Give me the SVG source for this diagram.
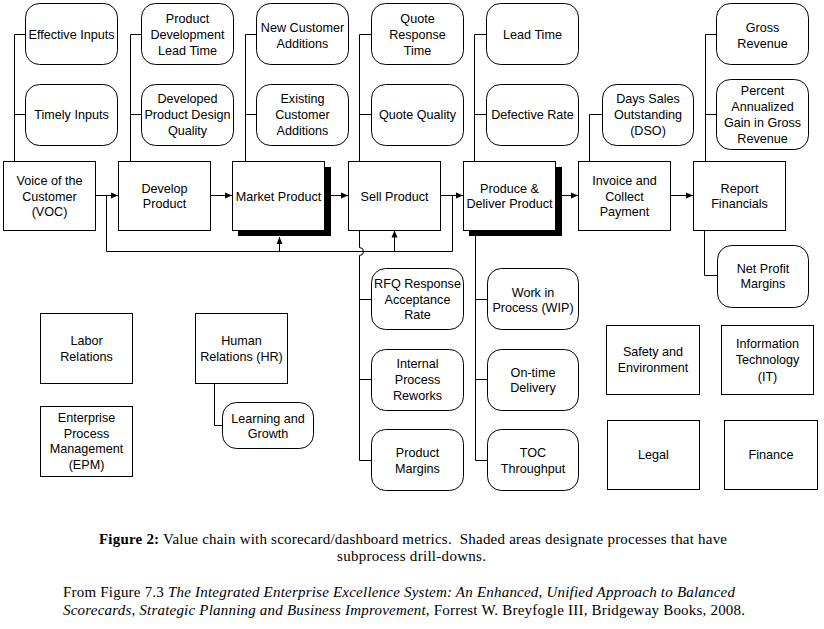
<svg xmlns="http://www.w3.org/2000/svg" width="824" height="629" viewBox="0 0 824 629">
<style>
.box{fill:#fff;stroke:#000;stroke-width:1}
.rb{fill:#fff;stroke:#000;stroke-width:1}
.sh{fill:#000}
.t{font-family:"Liberation Sans",Arial,sans-serif;font-size:12.6px;text-anchor:middle;fill:#000}
.ln{fill:none;stroke:#000;stroke-width:1}
.cap{font-family:"Liberation Serif","Times New Roman",serif;font-size:15px;fill:#000}
</style>
<defs>
<marker id="ah" markerWidth="8" markerHeight="8" refX="7" refY="4" orient="auto" markerUnits="userSpaceOnUse"><path d="M0,1 L7,4 L0,7 z" fill="#000"/></marker>
</defs>
<rect width="824" height="629" fill="#fff"/>
<g id="connectors" class="ln">
<path d="M14.5,161 V34.5 H25 M14.5,114.5 H25"/>
<path d="M130.5,161 V34.5 H141 M130.5,114.5 H141"/>
<path d="M245.5,161 V34.5 H256 M245.5,114.5 H256"/>
<path d="M359.5,161 V34.5 H371 M359.5,114.5 H371"/>
<path d="M474.5,161 V34.5 H486 M474.5,114.5 H486"/>
<path d="M589.5,161 V114.5 H602"/>
<path d="M705.5,161 V34.5 H716 M705.5,114.5 H716"/>
<path d="M704.5,230 V275.5 H717"/>
<path d="M359.5,230 V247.5 A4,4 0 0 1 359.5,255.5 V460.5 H371 M359.5,299.5 H371 M359.5,379.5 H371"/>
<path d="M475.5,236 V460.5 H487 M475.5,299.5 H487 M475.5,379.5 H487"/>
<path d="M214.5,383 V425.5 H222"/>
<path d="M106.5,195.5 V251.5 H452.5 V195.5"/>
<path d="M279.5,251.5 V237" marker-end="url(#ah)"/>
<path d="M394.5,251.5 V230.5" marker-end="url(#ah)"/>
<path d="M95,195.5 H118" marker-end="url(#ah)"/>
<path d="M210,195.5 H232" marker-end="url(#ah)"/>
<path d="M331,195.5 H348" marker-end="url(#ah)"/>
<path d="M440,195.5 H463" marker-end="url(#ah)"/>
<path d="M562,195.5 H578" marker-end="url(#ah)"/>
<path d="M670,195.5 H693" marker-end="url(#ah)"/>
</g>
<g id="effective-inputs"><rect class="rb" x="25.5" y="3.5" width="92" height="61" rx="14"/><text class="t" x="71.5" y="38.5">Effective Inputs</text></g>
<g id="timely-inputs"><rect class="rb" x="25.5" y="84.5" width="92" height="61" rx="14"/><text class="t" x="71.5" y="118.5">Timely Inputs</text></g>
<g id="pd-lead-time"><rect class="rb" x="141.5" y="3.5" width="92" height="61" rx="14"/><text class="t" x="187.5" y="22.5">Product</text><text class="t" x="187.5" y="38.5">Development</text><text class="t" x="187.5" y="54.5">Lead Time</text></g>
<g id="pd-design-quality"><rect class="rb" x="141.5" y="84.5" width="92" height="61" rx="14"/><text class="t" x="187.5" y="102.5">Developed</text><text class="t" x="187.5" y="118.5">Product Design</text><text class="t" x="187.5" y="134.5">Quality</text></g>
<g id="new-customer"><rect class="rb" x="256.5" y="3.5" width="92" height="61" rx="14"/><text class="t" x="302.5" y="31.5">New Customer</text><text class="t" x="302.5" y="47.5">Additions</text></g>
<g id="existing-customer"><rect class="rb" x="256.5" y="84.5" width="92" height="61" rx="14"/><text class="t" x="302.5" y="102.5">Existing</text><text class="t" x="302.5" y="118.5">Customer</text><text class="t" x="302.5" y="134.5">Additions</text></g>
<g id="quote-response"><rect class="rb" x="371.5" y="3.5" width="92" height="61" rx="14"/><text class="t" x="417.5" y="22.5">Quote</text><text class="t" x="417.5" y="38.5">Response</text><text class="t" x="417.5" y="54.5">Time</text></g>
<g id="quote-quality"><rect class="rb" x="371.5" y="84.5" width="92" height="61" rx="14"/><text class="t" x="417.5" y="118.5">Quote Quality</text></g>
<g id="lead-time"><rect class="rb" x="486.5" y="3.5" width="92" height="61" rx="14"/><text class="t" x="532.5" y="38.5">Lead Time</text></g>
<g id="defective-rate"><rect class="rb" x="486.5" y="84.5" width="92" height="61" rx="14"/><text class="t" x="532.5" y="118.5">Defective Rate</text></g>
<g id="dso"><rect class="rb" x="602.5" y="84.5" width="91" height="61" rx="14"/><text class="t" x="648" y="102.5">Days Sales</text><text class="t" x="648" y="118.5">Outstanding</text><text class="t" x="648" y="134.5">(DSO)</text></g>
<g id="gross-revenue"><rect class="rb" x="716.5" y="3.5" width="92" height="61" rx="14"/><text class="t" x="762.5" y="31.5">Gross</text><text class="t" x="762.5" y="47.5">Revenue</text></g>
<g id="percent-gain"><rect class="rb" x="716.5" y="79.5" width="92" height="70" rx="14"/><text class="t" x="762.5" y="94.5">Percent</text><text class="t" x="762.5" y="110.5">Annualized</text><text class="t" x="762.5" y="126.5">Gain in Gross</text><text class="t" x="762.5" y="142.5">Revenue</text></g>
<g id="voc"><rect class="box" x="3.5" y="161.5" width="92" height="69"/><text class="t" x="49.5" y="184.5">Voice of the</text><text class="t" x="49.5" y="200.5">Customer</text><text class="t" x="49.5" y="216">(VOC)</text></g>
<g id="develop-product"><rect class="box" x="118.5" y="161.5" width="92" height="69"/><text class="t" x="164.5" y="192.5">Develop</text><text class="t" x="164.5" y="208">Product</text></g>
<g id="market-product"><rect class="sh" x="238" y="167" width="93" height="69"/><rect class="box" x="232.5" y="161.5" width="92" height="69"/><text class="t" x="278.5" y="200.5">Market Product</text></g>
<g id="sell-product"><rect class="box" x="348.5" y="161.5" width="92" height="69"/><text class="t" x="394.5" y="200.5">Sell Product</text></g>
<g id="produce-deliver"><rect class="sh" x="469" y="167" width="93" height="69"/><rect class="box" x="463.5" y="161.5" width="92" height="69"/><text class="t" x="509.5" y="192.5">Produce &amp;</text><text class="t" x="509.5" y="208">Deliver Product</text></g>
<g id="invoice"><rect class="box" x="578.5" y="161.5" width="92" height="69"/><text class="t" x="624.5" y="184.5">Invoice and</text><text class="t" x="624.5" y="200.5">Collect</text><text class="t" x="624.5" y="216">Payment</text></g>
<g id="report-financials"><rect class="box" x="693.5" y="161.5" width="92" height="69"/><text class="t" x="739.5" y="192.5">Report</text><text class="t" x="739.5" y="208">Financials</text></g>
<g id="net-profit"><rect class="rb" x="717.5" y="245.5" width="91" height="62" rx="14"/><text class="t" x="763" y="272.5">Net Profit</text><text class="t" x="763" y="288">Margins</text></g>
<g id="rfq"><rect class="rb" x="371.5" y="268.5" width="92" height="61" rx="14"/><text class="t" x="417.5" y="287.5">RFQ Response</text><text class="t" x="417.5" y="303.5">Acceptance</text><text class="t" x="417.5" y="318.5">Rate</text></g>
<g id="internal-reworks"><rect class="rb" x="371.5" y="349.5" width="92" height="61" rx="14"/><text class="t" x="417.5" y="367.5">Internal</text><text class="t" x="417.5" y="383.5">Process</text><text class="t" x="417.5" y="399.5">Reworks</text></g>
<g id="product-margins"><rect class="rb" x="371.5" y="429.5" width="92" height="61" rx="14"/><text class="t" x="417.5" y="456.5">Product</text><text class="t" x="417.5" y="472.5">Margins</text></g>
<g id="wip"><rect class="rb" x="487.5" y="268.5" width="91" height="61" rx="14"/><text class="t" x="533" y="296.5">Work in</text><text class="t" x="533" y="311.5">Process (WIP)</text></g>
<g id="on-time"><rect class="rb" x="487.5" y="349.5" width="91" height="61" rx="14"/><text class="t" x="533" y="376.5">On-time</text><text class="t" x="533" y="391.5">Delivery</text></g>
<g id="toc"><rect class="rb" x="487.5" y="429.5" width="91" height="61" rx="14"/><text class="t" x="533" y="456.5">TOC</text><text class="t" x="533" y="472.5">Throughput</text></g>
<g id="labor-relations"><rect class="box" x="40.5" y="313.5" width="92" height="70"/><text class="t" x="86.5" y="344.5">Labor</text><text class="t" x="86.5" y="360.5">Relations</text></g>
<g id="epm"><rect class="box" x="40.5" y="406.5" width="92" height="70"/><text class="t" x="86.5" y="421.5">Enterprise</text><text class="t" x="86.5" y="437.5">Process</text><text class="t" x="86.5" y="453">Management</text><text class="t" x="86.5" y="469">(EPM)</text></g>
<g id="hr"><rect class="box" x="195.5" y="313.5" width="92" height="70"/><text class="t" x="241.5" y="344.5">Human</text><text class="t" x="241.5" y="360.5">Relations (HR)</text></g>
<g id="learning-growth"><rect class="rb" x="222.5" y="402.5" width="91" height="46" rx="14"/><text class="t" x="268" y="422.5">Learning and</text><text class="t" x="268" y="437.5">Growth</text></g>
<g id="safety"><rect class="box" x="606.5" y="325.5" width="93" height="69"/><text class="t" x="653" y="355.5">Safety and</text><text class="t" x="653" y="372">Environment</text></g>
<g id="it"><rect class="box" x="721.5" y="325.5" width="92" height="69"/><text class="t" x="767.5" y="347.5">Information</text><text class="t" x="767.5" y="364">Technology</text><text class="t" x="767.5" y="380.5">(IT)</text></g>
<g id="legal"><rect class="box" x="607.5" y="420.5" width="92" height="69"/><text class="t" x="653.5" y="458.5">Legal</text></g>
<g id="finance"><rect class="box" x="724.5" y="420.5" width="93" height="69"/><text class="t" x="771" y="458.5">Finance</text></g>
<g id="caption">
<text class="cap" x="99" y="544" textLength="628" lengthAdjust="spacing"><tspan font-weight="bold">Figure 2:</tspan> Value chain with scorecard/dashboard metrics.&#160; Shaded areas designate processes that have</text>
<text class="cap" x="337" y="561" textLength="149" lengthAdjust="spacing">subprocess drill-downs.</text>
<text class="cap" x="63" y="597" textLength="672" lengthAdjust="spacing">From Figure 7.3 <tspan font-style="italic">The Integrated Enterprise Excellence System: An Enhanced, Unified Approach to Balanced</tspan></text>
<text class="cap" x="63" y="615" textLength="682" lengthAdjust="spacing"><tspan font-style="italic">Scorecards, Strategic Planning and Business Improvement</tspan>, Forrest W. Breyfogle III, Bridgeway Books, 2008.</text>
</g>
</svg>
